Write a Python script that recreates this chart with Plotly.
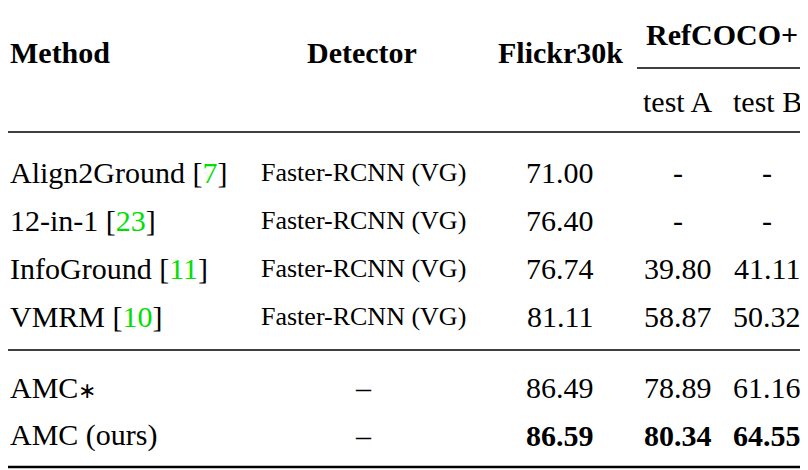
import plotly.graph_objects as go

methods = ["Align2Ground [<span style='color:#00e000'>7</span>]",
           "12-in-1 [<span style='color:#00e000'>23</span>]",
           "InfoGround [<span style='color:#00e000'>11</span>]",
           "VMRM [<span style='color:#00e000'>10</span>]",
           "AMC<span style='font-size:22px'>∗</span>", "AMC (ours)"]
detectors = ["Faster-RCNN (VG)"] * 4 + ["–", "–"]
flickr = ["71.00", "76.40", "76.74", "81.11", "86.49", "<b>86.59</b>"]
testA = ["-", "-", "39.80", "58.87", "78.89", "<b>80.34</b>"]
testB = ["-", "-", "41.11", "50.32", "61.16", "<b>64.55</b>"]

row_y = [172, 220, 268, 316, 387, 435]
F = "Liberation Serif"
fig = go.Figure()
ann = []
def t(x, y, s, size=30, anchor="center"):
    ann.append(dict(x=x, y=y, text=s, showarrow=False, xanchor=anchor, yanchor="middle",
                    font=dict(family=F, size=size, color="black")))

t(8, 52, "<b>Method</b>", anchor="left")
t(362, 52, "<b>Detector</b>")
t(560, 52, "<b>Flickr30k</b>")
t(722, 34, "<b>RefCOCO+</b>")
t(678, 101, "test A")
t(767, 101, "test B")
for i, y in enumerate(row_y):
    t(8, y, methods[i], anchor="left")
    t(363, y, detectors[i], size=26 if detectors[i] != "–" else 30)
    t(560, y, flickr[i])
    t(678, y, testA[i])
    t(767, y, testB[i])

shapes = []
def hl(x0, x1, y, w):
    shapes.append(dict(type="line", x0=x0, x1=x1, y0=y, y1=y, line=dict(color="black", width=w)))
hl(0, 808, 2, 2.5)
hl(637, 805, 68, 1.3)
hl(0, 808, 132, 1.3)
hl(0, 808, 350, 1.3)
hl(0, 808, 467, 2.5)

fig.update_layout(width=808, height=470, margin=dict(l=0, r=0, t=0, b=0),
                  paper_bgcolor="white", plot_bgcolor="white",
                  xaxis=dict(range=[8, 816], visible=False),
                  yaxis=dict(range=[478, 8], visible=False),
                  annotations=ann, shapes=shapes, showlegend=False)
fig.write_html("out.html")
